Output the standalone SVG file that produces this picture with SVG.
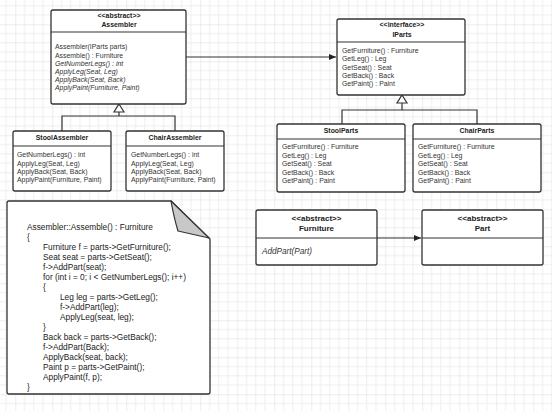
<svg xmlns="http://www.w3.org/2000/svg" width="552" height="411" viewBox="0 0 552 411">
<defs>
<pattern id="grid" x="15.3" y="24.3" width="37" height="37" patternUnits="userSpaceOnUse">
<path d="M9.25 0V37M18.5 0V37M27.75 0V37M0 9.25H37M0 18.5H37M0 27.75H37" stroke="#eeeeee" stroke-width="1" fill="none"/>
<path d="M0 0V37M0 0H37" stroke="#dcdcdc" stroke-width="1" fill="none"/>
</pattern>
<marker id="arr" markerWidth="8" markerHeight="8" refX="7" refY="4" orient="auto" markerUnits="userSpaceOnUse">
<path d="M0,1 L7,4 L0,7 Z" fill="#222"/>
</marker>
<style>
.box{fill:#fff;stroke:#333;stroke-width:1.3}
.div{stroke:#333;stroke-width:1.2}
.t{font-family:"Liberation Sans",Arial,sans-serif;font-size:6.9px;fill:#333}
.b{font-family:"Liberation Sans",Arial,sans-serif;font-size:6.9px;font-weight:bold;fill:#222;text-anchor:middle}
.bl{font-family:"Liberation Sans",Arial,sans-serif;font-size:8px;font-weight:bold;fill:#222;text-anchor:middle}
.i{font-style:italic}
.code{font-family:"Liberation Sans",Arial,sans-serif;font-size:8.3px;fill:#222}
.ln{stroke:#333;stroke-width:1.2;fill:none}
.tri{fill:#fff;stroke:#333;stroke-width:1.2}
</style>
</defs>
<rect width="552" height="411" fill="#fff"/>
<rect width="552" height="411" fill="url(#grid)"/>

<g id="connectors">
<path class="ln" d="M186 57H336" marker-end="url(#arr)"/>
<path class="ln" d="M377 238H421" marker-end="url(#arr)"/>
<path class="ln" d="M119 112V116M62 131V116H175V131"/>
<path class="tri" d="M119 104L124 112H114Z"/>
<path class="ln" d="M402 103V110M342 124V110H477V124"/>
<path class="tri" d="M402 95L407 103H397Z"/>
</g>

<g id="Assembler">
<rect class="box" x="51" y="10" width="135" height="94" rx="2"/>
<line class="div" x1="51" y1="32" x2="186" y2="32"/>
<text class="b" x="119" y="18.3">&lt;&lt;abstract&gt;&gt;</text>
<text class="b" x="119" y="27.2">Assembler</text>
<text class="t" x="55" y="49.4">Assembler(IParts parts)</text>
<text class="t" x="55" y="57.5">Assemble() : Furniture</text>
<text class="t i" x="55" y="65.6">GetNumberLegs() : int</text>
<text class="t i" x="55" y="73.7">ApplyLeg(Seat, Leg)</text>
<text class="t i" x="55" y="81.8">ApplyBack(Seat, Back)</text>
<text class="t i" x="55" y="89.9">ApplyPaint(Furniture, Paint)</text>
</g>

<g id="StoolAssembler">
<rect class="box" x="13" y="131" width="98" height="60" rx="2"/>
<line class="div" x1="13" y1="146" x2="111" y2="146"/>
<text class="b" x="62" y="140.2">StoolAssembler</text>
<text class="t" x="17" y="157.4">GetNumberLegs() : int</text>
<text class="t" x="17" y="165.7">ApplyLeg(Seat, Leg)</text>
<text class="t" x="17" y="174.1">ApplyBack(Seat, Back)</text>
<text class="t" x="17" y="182.4">ApplyPaint(Furniture, Paint)</text>
</g>

<g id="ChairAssembler">
<rect class="box" x="126" y="131" width="98" height="60" rx="2"/>
<line class="div" x1="126" y1="146" x2="224" y2="146"/>
<text class="b" x="175" y="140.2">ChairAssembler</text>
<text class="t" x="131" y="157.4">GetNumberLegs() : int</text>
<text class="t" x="131" y="165.7">ApplyLeg(Seat, Leg)</text>
<text class="t" x="131" y="174.1">ApplyBack(Seat, Back)</text>
<text class="t" x="131" y="182.4">ApplyPaint(Furniture, Paint)</text>
</g>

<g id="IParts">
<rect class="box" x="337" y="19" width="128" height="76" rx="2"/>
<line class="div" x1="337" y1="42" x2="465" y2="42"/>
<text class="b" x="402" y="27.4">&lt;&lt;interface&gt;&gt;</text>
<text class="b" x="402" y="36.5">IParts</text>
<text class="t" x="342" y="53.4">GetFurniture() : Furniture</text>
<text class="t" x="342" y="61.4">GetLeg() : Leg</text>
<text class="t" x="342" y="69.7">GetSeat() : Seat</text>
<text class="t" x="342" y="78.1">GetBack() : Back</text>
<text class="t" x="342" y="86.4">GetPaint() : Paint</text>
</g>

<g id="StoolParts">
<rect class="box" x="277" y="124" width="128" height="68" rx="2"/>
<line class="div" x1="277" y1="139" x2="405" y2="139"/>
<text class="b" x="341" y="132.5">StoolParts</text>
<text class="t" x="282" y="149.4">GetFurniture() : Furniture</text>
<text class="t" x="282" y="158">GetLeg() : Leg</text>
<text class="t" x="282" y="166.4">GetSeat() : Seat</text>
<text class="t" x="282" y="174.7">GetBack() : Back</text>
<text class="t" x="282" y="183">GetPaint() : Paint</text>
</g>

<g id="ChairParts">
<rect class="box" x="413" y="124" width="128" height="68" rx="2"/>
<line class="div" x1="413" y1="139" x2="541" y2="139"/>
<text class="b" x="477" y="132.5">ChairParts</text>
<text class="t" x="418" y="149.4">GetFurniture() : Furniture</text>
<text class="t" x="418" y="158">GetLeg() : Leg</text>
<text class="t" x="418" y="166.4">GetSeat() : Seat</text>
<text class="t" x="418" y="174.7">GetBack() : Back</text>
<text class="t" x="418" y="183">GetPaint() : Paint</text>
</g>

<g id="Furniture">
<rect class="box" x="256" y="210" width="121" height="55" rx="2"/>
<line class="div" x1="256" y1="238" x2="377" y2="238"/>
<text class="bl" x="316.5" y="221">&lt;&lt;abstract&gt;&gt;</text>
<text class="bl" x="316.5" y="231.2">Furniture</text>
<text class="t i" x="262" y="254" style="font-size:8.2px">AddPart(Part)</text>
</g>

<g id="Part">
<rect class="box" x="422" y="210" width="121" height="55" rx="2"/>
<line class="div" x1="422" y1="238" x2="543" y2="238"/>
<text class="bl" x="482.5" y="221">&lt;&lt;abstract&gt;&gt;</text>
<text class="bl" x="482.5" y="231.2">Part</text>
</g>

<g id="note">
<path class="box" d="M7 203Q7 201 9 201H171L210 239V392Q210 394 208 394H9Q7 394 7 392Z"/>
<path d="M171 201Q174 218 178 231L209 238Z" fill="#c8c8c8" stroke="#333" stroke-width="1.2" stroke-linejoin="round"/>
<text class="code" x="27" y="230">Assembler::Assemble() : Furniture</text>
<text class="code" x="27" y="240">{</text>
<text class="code" x="43" y="250">Furniture f = parts-&gt;GetFurniture();</text>
<text class="code" x="43" y="260">Seat seat = parts-&gt;GetSeat();</text>
<text class="code" x="43" y="270">f-&gt;AddPart(seat);</text>
<text class="code" x="43" y="280">for (int i = 0; i &lt; GetNumberLegs(); i++)</text>
<text class="code" x="43" y="290">{</text>
<text class="code" x="60" y="300">Leg leg = parts-&gt;GetLeg();</text>
<text class="code" x="60" y="310">f-&gt;AddPart(leg);</text>
<text class="code" x="60" y="320">ApplyLeg(seat, leg);</text>
<text class="code" x="43" y="330">}</text>
<text class="code" x="43" y="340">Back back = parts-&gt;GetBack();</text>
<text class="code" x="43" y="350">f-&gt;AddPart(Back);</text>
<text class="code" x="43" y="360">ApplyBack(seat, back);</text>
<text class="code" x="43" y="370">Paint p = parts-&gt;GetPaint();</text>
<text class="code" x="43" y="380">ApplyPaint(f, p);</text>
<text class="code" x="27" y="390">}</text>
</g>
</svg>
